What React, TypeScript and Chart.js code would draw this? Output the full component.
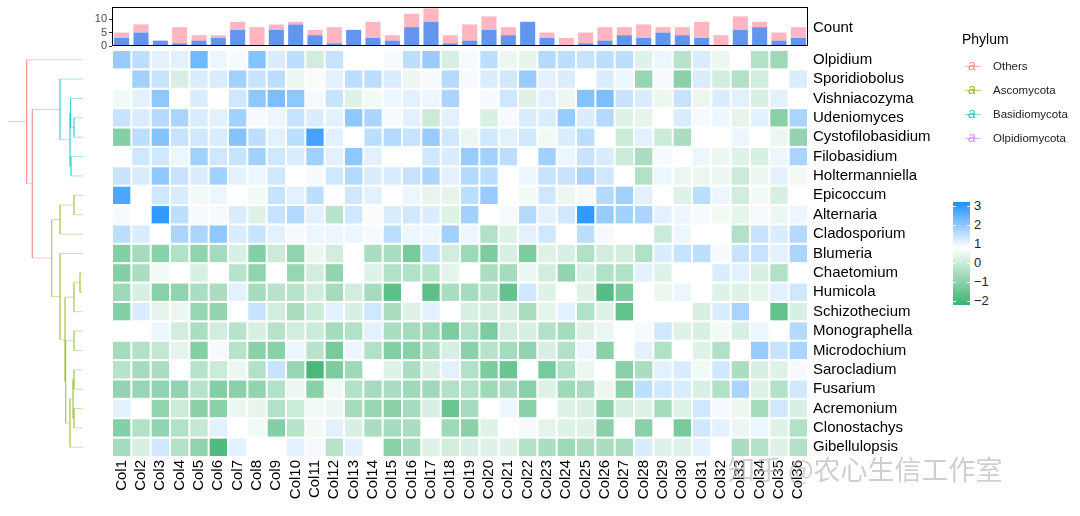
import React, { useEffect, useRef } from 'react';
import { Chart, registerables } from 'chart.js';
Chart.register(...registerables);

const FONT = "'Liberation Sans', Arial, sans-serif";

const columns = ['Col1','Col2','Col3','Col4','Col5','Col6','Col7','Col8','Col9','Col10','Col11','Col12','Col13','Col14','Col15','Col16','Col17','Col18','Col19','Col20','Col21','Col22','Col23','Col24','Col25','Col26','Col27','Col28','Col29','Col30','Col31','Col32','Col33','Col34','Col35','Col36'];

const genera = ['Olpidium','Sporidiobolus','Vishniacozyma','Udeniomyces','Cystofilobasidium','Filobasidium','Holtermanniella','Epicoccum','Alternaria','Cladosporium','Blumeria','Chaetomium','Humicola','Schizothecium','Monographella','Microdochium','Sarocladium','Fusarium','Acremonium','Clonostachys','Gibellulopsis'];

// top bar chart (stacked)
const countBlue = [3,5,2,1,2,3,6,0,6,8,4,1,6,3,2,7,9,1,2,6,4,9,3,0,1,2,4,3,5,4,3,0,6,7,2,3];
const countPink = [2,3,0,6,2,1,3,7,2,1,2,6,0,6,2,5,5,3,6,5,3,0,2,3,4,5,3,5,2,3,6,4,5,2,3,4];
const countTicks = [0, 5, 10];
const countMax = 14.5;

// heatmap rows
const zOlpidium = [1.9,1.5,1.1,1.1,2.3,1.0,0.9,2.1,1.2,1.5,0.1,1.4, 0.8,0.8,0.9,1.5,1.9,0.2,0.9,1.5,0.5,0.4,1.6,1.5, 1.4,1.5,1.5,0.3,1.0,-0.3,1.2,0.5,0.8,-0.4,-0.7,0.8];
const zSporidiobolus = [0.8,1.8,1.4,0.2,1.2,1.2,1.8,1.4,1.5,0.5,0.7,1.1, 1.5,1.5,1.2,0.5,0.9,1.6,0.9,1.2,1.3,1.9,1.1,1.2, 0.8,1.2,1.0,-0.8,0.9,-1.0,1.2,0.1,-0.4,0.1,0.8,1.2];
const zVishniacozyma = [0.6,1.1,2.0,0.8,1.2,0.8,1.3,2.0,2.2,2.0,0.9,1.4, 0.3,0.6,1.0,1.1,1.0,1.7,0.8,0.9,1.3,0.3,1.1,0.5, 2.1,2.2,1.4,1.2,0.5,1.4,0.5,1.2,1.1,0.2,1.1,0.8];
const zUdeniomyces = [1.4,1.2,1.6,1.7,1.2,1.1,1.8,0.9,1.0,1.4,1.2,1.1, 2.0,1.7,0.9,1.1,0.0,1.1,0.8,0.2,0.9,1.2,1.2,1.9, 1.2,1.6,0.3,0.4,0.8,1.2,0.9,1.0,0.4,1.1,-1.0,1.7];
const zCystofilobasidium = [-1.1,1.5,2.1,1.4,1.3,1.2,2.1,1.5,1.1,1.5,2.8,1.1, 0.8,1.5,1.6,1.4,1.9,1.3,0.5,1.3,1.1,1.3,0.6,1.2, 1.5,0.8,0.0,1.1,0.0,-0.5,0.8,0.8,1.0,0.8,0.5,-0.9];
const zFilobasidium = [0.8,1.3,1.3,1.0,1.8,1.3,1.4,1.8,1.3,1.2,1.8,1.1, 2.0,1.1,0.8,0.8,1.3,1.2,1.9,1.8,1.5,0.8,1.8,1.0, 1.4,1.2,0.0,-0.5,0.9,0.8,1.0,0.5,0.3,0.2,1.0,1.7];
const zHoltermanniella = [1.4,1.2,2.0,1.4,1.2,1.8,1.1,1.0,1.3,0.8,0.9,1.3, 1.6,1.2,1.2,1.4,1.7,1.1,1.6,1.5,0.8,1.0,1.4,1.4, 1.7,1.3,0.8,-0.4,1.0,0.5,0.5,0.5,0.0,0.5,1.1,0.6];
const zEpicoccum = [2.7,0.8,1.3,1.2,0.6,1.0,0.8,0.6,1.4,1.1,1.5,0.8, 1.3,1.1,0.8,1.0,0.4,0.4,1.5,1.9,0.8,0.6,1.3,0.5, 0.9,1.6,1.8,1.1,0.8,0.3,1.5,1.0,0.1,0.6,0.2,0.8];
const zAlternaria = [0.9,0.8,3.0,1.5,0.9,0.9,1.2,0.3,1.4,1.6,1.1,-0.3, 1.3,0.7,1.2,1.3,1.2,0.3,1.8,0.8,0.9,1.6,1.1,1.3, 3.0,1.9,1.8,1.7,1.1,1.0,0.9,0.6,0.4,0.9,0.5,1.0];
const zCladosporium = [1.5,1.2,0.8,1.7,1.7,2.0,1.2,1.4,1.1,0.9,1.0,1.0, 1.0,0.9,1.5,1.0,1.0,1.8,1.0,-0.4,0.3,1.1,1.3,0.8, 1.5,0.9,0.8,0.8,0.0,1.0,0.8,0.8,-0.4,1.4,1.2,1.6];
const zBlumeria = [-1.1,-0.6,-1.0,-0.4,-0.9,-0.6,0.2,-1.1,0.0,-0.9,0.5,0.1, 0.8,-0.5,-0.5,-1.3,1.4,0.1,-0.7,-1.2,0.2,-1.2,0.3,0.2, -0.4,0.1,0.1,-0.4,1.2,1.4,1.5,0.9,1.4,1.4,1.1,1.7];
const zChaetomium = [-1.1,-0.5,0.6,0.8,0.2,0.8,-0.3,-0.9,0.8,-0.8,0.1,-0.9, 0.8,0.3,-0.4,-0.4,-0.3,0.4,0.8,-0.5,-0.6,0.5,0.1,-0.9, 0.2,-0.4,-0.4,1.1,0.3,0.8,0.8,1.2,1.1,0.2,-0.4,0.8];
const zHumicola = [-0.7,0.2,-1.0,-0.9,-0.5,-0.5,1.1,-0.6,-0.3,-0.3,0.1,-0.6, 0.1,-0.6,-1.7,0.8,-1.7,-0.5,-0.6,-0.3,-1.6,1.3,0.3,0.8, 0.3,-1.8,-1.2,0.8,0.5,1.0,0.8,0.3,0.3,0.4,1.1,1.3];
const zSchizothecium = [-1.1,1.2,0.4,0.5,-0.8,-0.9,0.8,1.4,0.1,-0.5,0.0,1.1, 0.2,1.3,-0.5,0.3,1.1,0.8,0.2,0.1,0.2,-0.5,0.4,1.1, -0.4,0.3,-1.6,0.8,0.8,0.8,0.2,1.2,1.7,0.8,-1.6,0.2];
const zMonographella = [0.8,0.8,1.0,0.1,-0.5,0.1,-0.3,0.2,-0.3,0.1,0.0,-0.6, -0.4,1.1,-0.5,-0.6,-0.7,-1.2,-0.4,-1.2,0.1,0.2,-0.4,-0.6, 0.3,0.5,0.8,0.9,1.3,0.3,0.2,0.6,0.2,1.0,0.8,1.6];
const zMicrodochium = [-0.6,-0.4,-0.1,0.4,-1.1,0.9,-0.3,-1.0,-1.0,1.0,-0.3,-1.3, 1.0,-0.4,-1.1,-1.0,-0.5,0.2,-1.0,-0.3,-0.6,-0.9,0.2,-0.4, 1.0,-1.0,0.8,1.1,-0.4,0.8,0.3,-0.4,0.8,1.9,1.4,1.7];
const zSarocladium = [-0.3,-0.6,-0.5,0.8,-0.3,0.0,0.5,-0.4,1.4,-0.8,-2.0,-1.2, -0.7,0.8,0.3,-0.5,0.2,1.1,-0.4,-1.2,-1.5,0.8,-1.3,-0.4, 0.5,0.8,-1.0,-0.5,1.1,1.2,0.6,1.3,-0.5,0.2,0.3,0.9];
const zFusarium = [-0.9,-0.8,-0.9,-0.9,-0.3,-1.1,-1.0,-0.9,-0.4,0.5,-1.0,0.6, -0.4,-0.6,-0.5,-0.7,-0.7,-0.4,-0.4,-0.7,-0.5,-1.0,0.3,-0.7, -0.5,0.5,-1.0,1.5,1.3,1.2,0.2,-0.4,1.7,0.3,-0.4,1.3];
const zAcremonium = [1.1,0.8,-0.9,0.0,-1.0,-1.0,0.5,0.4,-0.4,0.0,0.6,0.5, -0.6,-0.8,-1.0,-0.6,0.2,-1.5,-0.6,0.8,1.0,-1.0,0.8,0.3, 0.2,-1.0,0.2,0.3,-0.6,0.3,1.3,0.9,0.5,-0.6,1.3,0.2];
const zClonostachys = [-1.1,-0.4,-0.9,-0.4,-0.1,1.1,0.8,0.6,-1.1,-0.3,0.6,1.1, 0.2,-0.5,-0.6,-0.5,0.8,-0.7,-1.0,0.3,0.8,0.9,0.4,0.3, 0.3,-1.0,0.8,-1.0,0.8,-1.3,1.3,1.1,0.5,1.0,0.3,-0.4];
const zGibellulopsis = [-0.6,0.2,1.3,-0.4,-0.9,-1.9,1.1,0.8,0.8,1.1,0.9,-0.3, 1.1,0.8,-1.0,-0.6,0.3,0.1,0.2,0.3,0.3,-0.4,-0.5,-0.7, -0.5,-0.5,-0.5,1.2,0.3,0.3,1.1,0.8,-0.5,-0.4,0.3,-0.4];

const heatRows = [zOlpidium,zSporidiobolus,zVishniacozyma,zUdeniomyces,zCystofilobasidium,zFilobasidium,zHoltermanniella,zEpicoccum,zAlternaria,zCladosporium,zBlumeria,zChaetomium,zHumicola,zSchizothecium,zMonographella,zMicrodochium,zSarocladium,zFusarium,zAcremonium,zClonostachys,zGibellulopsis];

const heatMin = -2.2;
const heatMid = 0.8;
const heatMax = 3.2;
const colorbarTicks = [3, 2, 1, 0, -1, -2];

// phylum legend
const phylumNames = ['Others', 'Ascomycota', 'Basidiomycota', 'Olpidiomycota'];
const phylumColors = ['#F8766D', '#7CAE00', '#00BFC4', '#C77CFF'];
const treeLine: Record<string, string> = {
  O: 'rgba(248,118,109,0.4)',
  A: 'rgba(140,180,0,0.38)',
  B: 'rgba(0,191,196,0.38)',
};

// dendrogram: h = branch height, g = clade colour, e = colour of incoming edge
type TreeNode = string | { h: number; g: string; e?: string; k: [TreeNode, TreeNode] };
const rootStub = 75;
const fungiTree: TreeNode = { h: 56.3, g: 'O', k: ['Olpidium', { h: 50.7, g: 'O', k: [
  { h: 23, g: 'B', k: ['Sporidiobolus', { h: 13, g: 'B', k: [
    { h: 12.5, g: 'B', k: ['Vishniacozyma', { h: 9, g: 'B', k: ['Udeniomyces', 'Cystofilobasidium'] }] },
    { h: 12, g: 'B', k: ['Filobasidium', 'Holtermanniella'] },
  ] }] },
  { h: 31.3, g: 'A', e: 'O', k: [
    { h: 23, g: 'A', k: [{ h: 9, g: 'A', k: ['Epicoccum', 'Alternaria'] }, 'Cladosporium'] },
    { h: 23, g: 'A', k: ['Blumeria', { h: 18, g: 'A', k: [
      { h: 9, g: 'A', k: [{ h: 3, g: 'A', k: ['Chaetomium', 'Humicola'] }, 'Schizothecium'] },
      { h: 17.3, g: 'A', k: [
        { h: 9, g: 'A', k: ['Monographella', 'Microdochium'] },
        { h: 13, g: 'A', k: [
          { h: 10, g: 'A', k: [{ h: 9, g: 'A', k: ['Sarocladium', 'Fusarium'] }, { h: 9, g: 'A', k: ['Acremonium', 'Clonostachys'] }] },
          'Gibellulopsis'] },
      ] },
    ] }] },
  ] },
] }] };

function heatColor(v: number): string {
  const lo = [60, 179, 113], mid = [255, 255, 255], hi = [30, 144, 255];
  let a: number[], b: number[], t: number;
  if (v <= heatMid) { a = lo; b = mid; t = (v - heatMin) / (heatMid - heatMin); }
  else { a = mid; b = hi; t = (v - heatMid) / (heatMax - heatMid); }
  t = Math.max(0, Math.min(1, t));
  const c = a.map((x, i) => Math.round(x + (b[i] - x) * t));
  return `rgb(${c[0]},${c[1]},${c[2]})`;
}

function buildSegments(node: TreeNode, segs: { pts: { x: number; y: number }[]; c: string }[]): { y: number; h: number } {
  if (typeof node === 'string') return { y: genera.indexOf(node), h: 0 };
  const kids = node.k.map((k) => buildSegments(k, segs));
  const y = (kids[0].y + kids[1].y) / 2;
  segs.push({ pts: [{ x: node.h, y: kids[0].y }, { x: node.h, y: kids[1].y }], c: treeLine[node.g] });
  node.k.forEach((k, i) => {
    const col = typeof k === 'string' ? treeLine[node.g] : treeLine[k.e ?? k.g];
    segs.push({ pts: [{ x: node.h, y: kids[i].y }, { x: kids[i].h, y: kids[i].y }], c: col });
  });
  return { y, h: node.h };
}

const boxPlugin = {
  id: 'box',
  afterDraw(chart: any) {
    const { ctx, chartArea: a } = chart;
    ctx.save();
    ctx.strokeStyle = '#000';
    ctx.lineWidth = 1;
    ctx.strokeRect(Math.round(a.left) + 0.5, Math.round(a.top) + 0.5, Math.round(a.width) - 1, Math.round(a.height) - 1);
    ctx.restore();
  },
};

const noPad = (s: any) => { s.paddingTop = 0; s.paddingBottom = 0; s.paddingLeft = 0; s.paddingRight = 0; };

export default function App() {
  const barRef = useRef<HTMLCanvasElement>(null);
  const heatRef = useRef<HTMLCanvasElement>(null);
  const treeRef = useRef<HTMLCanvasElement>(null);

  useEffect(() => {
    const charts: Chart[] = [];

    charts.push(new Chart(barRef.current!, {
      type: 'bar',
      data: {
        labels: columns,
        datasets: [
          { label: 'Assigned', data: countBlue, backgroundColor: '#6495ED', barPercentage: 0.78, categoryPercentage: 1 },
          { label: 'Others', data: countPink, backgroundColor: '#FFB6C1', barPercentage: 0.78, categoryPercentage: 1 },
        ],
      },
      options: {
        animation: false, responsive: false, events: [],
        layout: { padding: { top: 7, right: 12, bottom: 4, left: 0 }, autoPadding: false },
        plugins: { legend: { display: false }, tooltip: { enabled: false } },
        scales: {
          x: { stacked: true, display: false },
          y: {
            stacked: true, min: 0, max: countMax,
            grid: { display: true, drawOnChartArea: false, drawTicks: true, tickLength: 3, color: '#333' },
            border: { display: false },
            ticks: { color: '#4d4d4d', font: { size: 11, family: FONT }, padding: 2 },
            afterBuildTicks: (s: any) => { s.ticks = countTicks.map((v) => ({ value: v })); },
            afterFit: (s: any) => { s.width = 32; noPad(s); },
          },
        },
      },
      plugins: [boxPlugin],
    } as any));

    const heatPoints: { x: string; y: string; v: number }[] = [];
    heatRows.forEach((row, r) => row.forEach((v, c) => heatPoints.push({ x: columns[c], y: genera[r], v })));
    const cellRadius = (ctx: any) => {
      const a = ctx.chart.chartArea;
      const w = a ? Math.min(a.width / columns.length, a.height / genera.length) : 19.3;
      return (w - 2) / Math.SQRT2;
    };
    charts.push(new Chart(heatRef.current!, {
      type: 'scatter',
      data: {
        datasets: [{
          data: heatPoints,
          pointStyle: 'rect',
          pointRadius: cellRadius,
          pointHoverRadius: cellRadius,
          backgroundColor: (c: any) => heatColor(c.raw ? c.raw.v : 0),
          borderWidth: 0,
          hoverBorderWidth: 0,
          clip: false,
        }],
      },
      options: {
        animation: false, responsive: false, events: [],
        layout: { padding: 0, autoPadding: false },
        plugins: { legend: { display: false }, tooltip: { enabled: false } },
        scales: {
          x: {
            type: 'category', labels: columns, offset: true,
            grid: { display: false, drawTicks: false }, border: { display: false },
            ticks: { autoSkip: false, minRotation: 90, maxRotation: 90, color: '#000', font: { size: 15, family: FONT }, padding: 3 },
            afterFit: (s: any) => { s.height = 59; noPad(s); },
          },
          y: {
            type: 'category', labels: genera, position: 'right', offset: true,
            grid: { display: false, drawTicks: false }, border: { display: false },
            ticks: { autoSkip: false, color: '#000', font: { size: 15, family: FONT }, padding: 5 },
            afterFit: (s: any) => { s.width = 144; noPad(s); },
          },
        },
      },
    } as any));

    const segs: { pts: { x: number; y: number }[]; c: string }[] = [];
    const rootInfo = buildSegments(fungiTree, segs);
    segs.push({ pts: [{ x: rootInfo.h, y: rootInfo.y }, { x: rootStub, y: rootInfo.y }], c: treeLine.O });
    charts.push(new Chart(treeRef.current!, {
      type: 'scatter',
      data: {
        datasets: segs.map((s) => ({ data: s.pts, showLine: true, borderColor: s.c, borderWidth: 1, pointRadius: 0, pointHoverRadius: 0 })),
      },
      options: {
        animation: false, responsive: false, events: [],
        layout: { padding: 0, autoPadding: false },
        plugins: { legend: { display: false }, tooltip: { enabled: false } },
        scales: {
          x: { type: 'linear', reverse: true, min: -29, max: 83, display: false },
          y: { type: 'linear', reverse: true, min: -0.5, max: genera.length - 0.5, display: false },
        },
      },
    } as any));

    return () => charts.forEach((c) => c.destroy());
  }, []);

  const barTop = 202, barH = 103;
  const yOf = (v: number) => barTop + barH - ((v - heatMin) / (heatMax - heatMin)) * barH;
  const midPct = ((heatMid - heatMin) / (heatMax - heatMin)) * 100;

  return (
    <div style={{ position: 'absolute', left: 0, top: 0, width: 1080, height: 516, background: '#fff', fontFamily: FONT, overflow: 'hidden' }}>
      <canvas ref={treeRef} width={112} height={407} style={{ position: 'absolute', left: 0, top: 50, width: 112, height: 407 }} />
      <canvas ref={barRef} width={740} height={50} style={{ position: 'absolute', left: 80, top: 0, width: 740, height: 50 }} />
      <canvas ref={heatRef} width={840} height={466} style={{ position: 'absolute', left: 112, top: 50, width: 840, height: 466 }} />
      <div style={{ position: 'absolute', left: 813, top: 18, fontSize: 15, color: '#000' }}>Count</div>

      <div style={{ position: 'absolute', left: 962, top: 31, fontSize: 14, color: '#000' }}>Phylum</div>
      {phylumNames.map((n, i) => (
        <div key={n} style={{ position: 'absolute', left: 964, top: 58 + i * 24, height: 16, width: 120 }}>
          <div style={{ position: 'absolute', left: 1, top: 8, width: 16, height: 1, background: phylumColors[i], opacity: 0.55 }} />
          <div style={{ position: 'absolute', left: 4, top: -1, fontSize: 14, lineHeight: '16px', color: phylumColors[i], opacity: 0.8, fontStyle: 'italic' }}>a</div>
          <div style={{ position: 'absolute', left: 29, top: 1, fontSize: 11.5, lineHeight: '15px', color: '#222' }}>{n}</div>
        </div>
      ))}

      <div style={{ position: 'absolute', left: 953, top: barTop, width: 17, height: barH,
        background: `linear-gradient(to top, ${heatColor(heatMin)} 0%, ${heatColor(heatMid)} ${midPct}%, ${heatColor(heatMax)} 100%)` }} />
      {colorbarTicks.map((v) => (
        <React.Fragment key={v}>
          <div style={{ position: 'absolute', left: 953, top: Math.round(yOf(v)), width: 3, height: 1, background: '#fff' }} />
          <div style={{ position: 'absolute', left: 967, top: Math.round(yOf(v)), width: 3, height: 1, background: '#fff' }} />
          <div style={{ position: 'absolute', left: 974, top: yOf(v) - 8, fontSize: 13, lineHeight: '16px', color: '#222' }}>
            {v < 0 ? `\u2212${-v}` : `${v}`}
          </div>
        </React.Fragment>
      ))}

      <div style={{ position: 'absolute', left: 728, top: 451, fontSize: 27, lineHeight: '36px', color: 'rgba(175,175,175,0.6)', fontFamily: "'Noto Sans CJK SC', sans-serif", whiteSpace: 'nowrap' }}>
        知乎 @农心生信工作室
      </div>
    </div>
  );
}
